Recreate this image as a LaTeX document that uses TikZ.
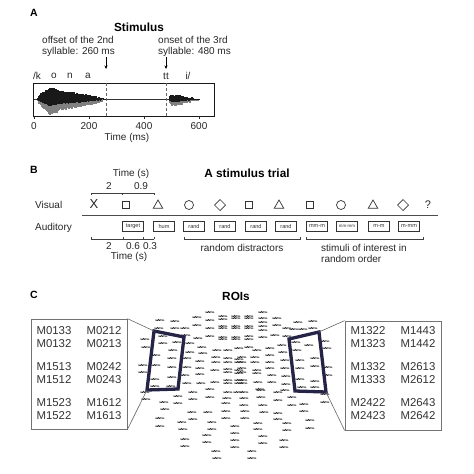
\documentclass[tikz,border=0pt]{standalone}
\usepackage{fontspec}
\setmainfont{Liberation Sans}
\usetikzlibrary{calc,positioning,shapes.geometric,arrows.meta}
\definecolor{roiframe}{RGB}{38,36,70}
\tikzset{
 stim panel/.style={font=\fontsize{10.5}{12}\selectfont\bfseries},
 stim title/.style={font=\fontsize{11.8}{13}\selectfont\bfseries},
 stim text/.style={font=\fontsize{10}{11.2}\selectfont,text=black!85,inner sep=0pt},
 stim note/.style={stim text,align=left,anchor=west},
 stim arrow/.style={-{Stealth[length=3.5pt,width=3pt]},line width=.6pt},
 stim rule/.style={line width=.8pt,black!75},
 wave dark/.style={black!90,line width=1.05pt},
 wave pale/.style={black!50,line width=1.05pt},
 vis sym/.style={draw=black!80,line width=.7pt,inner sep=0pt,outer sep=0pt},
 vis square/.style={vis sym,rectangle,minimum size=7.5pt},
 vis circle/.style={vis sym,circle,minimum size=9pt},
 vis triangle/.style={vis sym,regular polygon,regular polygon sides=3,minimum size=11pt},
 vis diamond/.style={vis sym,diamond,minimum width=11pt,minimum height=11pt},
 aud box/.style={draw=black!80,line width=.6pt,minimum width=21pt,minimum height=10pt,
                 inner sep=0pt,font=\fontsize{5.6}{6}\selectfont,text=black!80},
 roi box/.style={draw=black!55,line width=.8pt,minimum width=96pt,minimum height=110pt,inner sep=0pt},
 roi name/.style={font=\fontsize{11.4}{13}\selectfont,text=black!80,inner sep=0pt},
 roi frame/.style={draw=roiframe,line width=3.3pt,line join=miter},
 roi link/.style={draw=black!60,line width=.6pt},
 sensor/.style={draw=black!80,line width=.9pt,line cap=round}
}
\begin{document}
\begin{tikzpicture}[x=1pt,y=-1pt]
 \useasboundingbox (0,0) rectangle (474,474);

 % panel A
 \node[stim panel] (panelA) at (34,13) {A};
 \node[stim title] (stimTitle) at (139,27) {Stimulus};
 \node[stim note] (offsetNote) at (42,46.5) {offset of the 2nd\\syllable: 260 ms};
 \node[stim note] (onsetNote) at (158,46.5) {onset of the 3rd\\syllable: 480 ms};
 \coordinate (offsetTop) at (106,57);
 \coordinate (offsetEnd) at (106,69);
 \coordinate (onsetTop) at (166,57);
 \coordinate (onsetEnd) at (166,69);
 \draw[stim arrow] (offsetTop)--(offsetEnd);
 \draw[stim arrow] (onsetTop)--(onsetEnd);
 \node[stim text] (kLet) at (37,76) {/k};
 \node[stim text] (oLet) at (54,76) {o};
 \node[stim text] (nLet) at (70,76) {n};
 \node[stim text] (aLet) at (88,76) {a};
 \node[stim text] (ttLet) at (166,76) {tt};
 \node[stim text] (iLet) at (188,76) {i/};

 % waveform
 \pgfmathsetseed{17}
 \draw[black!80,line width=.6pt] (34,99) -- (200,99);
 \foreach \xa/\ta/\ba/\xb/\tb/\bb in {
   37/98/100/42/93/107, 42/93/107/50/88/114, 50/88/114/55/89/113, 55/89/113/60/92/110,
   60/92/110/73/92.5/108, 73/92.5/108/87/95/105, 87/95/105/100/97.5/102, 100/97.5/102/106/99/99.5,
   169/97/101/172/95/106, 172/95/106/180/96/104.5, 180/96/104.5/190/97.5/102, 190/97.5/102/199/99/99.5} {
   \pgfmathsetmacro{\nsteps}{int(\xb-\xa)}
   \foreach \s in {1,...,\nsteps} {
     \pgfmathsetmacro{\px}{\xa+\s}
     \pgfmathsetmacro{\pt}{\ta+(\tb-\ta)*\s/\nsteps+rnd*1.6-.8}
     \pgfmathsetmacro{\pb}{\ba+(\bb-\ba)*\s/\nsteps+rnd*1.6-.8}
     \pgfmathsetmacro{\pm}{99+(\pb-99)*.45}
     \draw[wave pale] (\px,\pm) -- (\px,\pb);
     \draw[wave dark] (\px,\pt) -- (\px,\pm);
   }
 }

 \node[draw=black!90,line width=1pt,minimum width=181pt,minimum height=33pt,inner sep=0pt,
   anchor=north west] (waveBox) at (33,83) {};
 \draw[black!60,line width=.4pt,densely dashed] (106,83) -- (106,116);
 \draw[black!60,line width=.4pt,densely dashed] (166,83) -- (166,116);
 \foreach \x/\t in {34/0,89/200,144/400,199/600} {
   \draw[line width=.7pt,black!85] (\x,116) -- (\x,119);
   \node[stim text] (tick\t) at (\x,126) {\t};
 }
 \node[stim text] (timeMs) at (127,138) {Time (ms)};

 % panel B
 \node[stim panel] (panelB) at (34,170) {B};
 \node[stim title] (trialTitle) at (247,173) {A stimulus trial};
 \node[stim text] (timeTop) at (131,174) {Time (s)};
 \node[stim text] (topTwo) at (109,186) {2};
 \node[stim text] (topNine) at (141,186) {0.9};
 \coordinate (topA) at (91,193);
 \coordinate (topB) at (122,193);
 \coordinate (topC) at (154,193);
 \draw[stim rule] (topA)--(topC);
 \foreach \c in {topA,topB,topC} \draw[stim rule] (\c)--++(0,2);

 \node[stim note] (visualLab) at (35,205) {Visual};
 \node[stim note] (auditoryLab) at (35,228) {Auditory};
 \node[font=\fontsize{13}{14}\selectfont,inner sep=0pt,text=black!85] (visX) at (94,204.5) {X};
 \node[vis square] (vis1) at (126,205) {};
 \node[vis triangle] (vis2) at (158,205.5) {};
 \node[vis circle] (vis3) at (189,205) {};
 \node[vis diamond] (vis4) at (220,205) {};
 \node[vis square] (vis5) at (249,205) {};
 \node[vis triangle] (vis6) at (279,205.5) {};
 \node[vis square] (vis7) at (310,205) {};
 \node[vis circle] (vis8) at (341,205) {};
 \node[vis triangle] (vis9) at (373,205.5) {};
 \node[vis diamond] (vis10) at (403,205) {};
 \node[stim text,font=\fontsize{11}{12}\selectfont] (visQ) at (428,205) {?};
 \coordinate (ruleL) at (82,215);
 \coordinate (ruleR) at (438,215);
 \draw[line width=.9pt,black!70] (ruleL)--(ruleR);

 \foreach \x/\t/\n in {133/target/audA,164/hum/audB,194/rand/audC,225/rand/audD,256/rand/audE,
   286/rand/audF,317/mm-m/audG,379/m-m/audI,409/m-mm/audJ}
   \node[aud box] (\n) at (\x,226) {\t};
 \node[aud box,font=\fontsize{4.4}{5}\selectfont] (audH) at (347,226) {mm-mm};

 \coordinate (lowA) at (91,239);
 \coordinate (lowB) at (123,239);
 \coordinate (lowC) at (143,239);
 \coordinate (lowD) at (154,239);
 \draw[stim rule] (lowA)--(lowD);
 \foreach \c in {lowA,lowB,lowC,lowD} \draw[stim rule] (\c)--++(0,-2);
 \node[stim text] (lowTwo) at (109,246.5) {2};
 \node[stim text] (lowSix) at (133,246.5) {0.6};
 \node[stim text] (lowThree) at (150,246.5) {0.3};
 \node[stim text] (timeLow) at (129,257) {Time (s)};

 \coordinate (randL) at (184,239);
 \coordinate (randR) at (300,239);
 \coordinate (interL) at (306,239);
 \coordinate (interR) at (423,239);
 \draw[stim rule] ($(randL)+(0,-2)$)--(randL)--(randR)--++(0,-2);
 \draw[stim rule] ($(interL)+(0,-2)$)--(interL)--(interR)--++(0,-2);
 \node[stim text] (randNote) at (242,248) {random distractors};
 \node[stim note] (interNote) at (321,253.5) {stimuli of interest in\\random order};

 % panel C
 \node[stim panel] (panelC) at (34,295) {C};
 \node[stim title] (roiTitle) at (236,296) {ROIs};

 % sensors
 \foreach \x/\y in {
   210/312,160/320,175/321,197/317,210/320,223/316,223/319,236/316,236/318,
   159/328,175/328,185/328,197/325,210/328,223/326,223/328,236/326,236/328,
   163/336,177/342,145/339,146/347,163/343,186/335,198/338,210/336,223/337,223/339,236/337,236/339,
   190/343,190/352,202/347,203/353,217/350,228/350,239/348,
   173/350,156/355,172/358,187/358,200/361,216/357,216/362,228/358,228/362,239/359,239/362,
   143/365,143/372,156/365,172/367,187/367,200/368,215/370,228/369,228/372,239/370,239/373,
   155/379,172/377,185/375,200/374,215/382,228/380,228/383,239/380,239/383,
   155/386,171/386,187/383,201/383,210/389,
   145/392,146/399,164/402,165/409,178/403,178/396,193/392,193/399,210/397,228/392,227/398,238/392,
   160/418,160/426,182/422,183/429,192/412,193/419,208/412,212/422,212/429,226/403,226/411,226/418,
   185/439,185/446,207/435,207/442,216/451,217/458,235/426,235/433,235/440,235/447,
   244/392,244/398,261/390,261/397,278/392,278/400,292/397,292/405,304/404,304/411,325/394,325/402,
   244/405,245/411,263/405,264/412,278/413,278/419,287/423,287/430,310/420,310/428,
   245/418,258/423,258/429,263/436,263/443,284/440,284/447,252/451,252/458,
   263/312,249/316,249/318,263/318,263/322,277/318,298/322,313/321,
   249/326,249/328,263/326,263/330,277/325,287/328,294/329,303/329,313/328,
   249/336,249/339,263/337,275/335,287/336,296/342,309/345,325/341,327/348,
   249/347,257/350,270/348,282/345,283/352,297/350,
   242/357,242/362,255/357,255/362,270/355,270/362,285/360,300/360,315/358,
   242/368,242/372,257/370,257/373,270/368,285/368,300/368,315/366,328/367,
   243/380,243/383,258/382,272/375,272/382,286/376,286/384,300/379,315/381,328/375,
   260/389,302/387,315/387,285/390}
   \draw[sensor] (\x-4.5,\y) -- ++(2,.4) -- ++(1,-.9) -- ++(1,.9) -- ++(1,-.5) -- ++(3.5,.3);

 % left region
 \node[roi box] (leftBox) at (79,374) {};
 \node[roi box,minimum height=109pt] (rightBox) at (393,375.5) {};
 \coordinate (leftA) at (154,331);
 \coordinate (leftB) at (184,337);
 \coordinate (leftC) at (178,389);
 \coordinate (leftD) at (147,390);
 \draw[roi frame] (leftA)--(leftB)--(leftC)--(leftD)--cycle;
 \draw[roi link] (leftBox.north east)--(leftA);
 \draw[roi link] (leftBox.south east)--(leftD);
 \coordinate (rightA) at (289,339);
 \coordinate (rightB) at (319,332);
 \coordinate (rightC) at (326,392);
 \coordinate (rightD) at (295,391);
 \draw[roi frame] (rightA)--(rightB)--(rightC)--(rightD)--cycle;
 \draw[roi link] (rightBox.north west)--(rightB);
 \draw[roi link] (rightBox.south west)--(rightC);

 \foreach \y/\a/\b in {331/M0133/M0212,344/M0132/M0213,367/M1513/M0242,380/M1512/M0243,403/M1523/M1612,416/M1522/M1613} {
   \node[roi name] (\a) at (54,\y) {\a};
   \node[roi name] (\b) at (104,\y) {\b};
 }
 \foreach \y/\a/\b in {331/M1322/M1443,344/M1323/M1442,367/M1332/M2613,380/M1333/M2612,403/M2422/M2643,416/M2423/M2642} {
   \node[roi name] (\a) at (368,\y) {\a};
   \node[roi name] (\b) at (418,\y) {\b};
 }
\end{tikzpicture}
\end{document}
